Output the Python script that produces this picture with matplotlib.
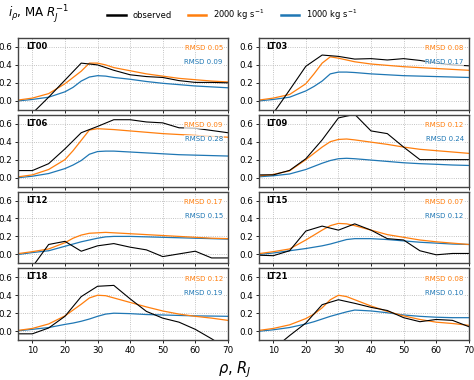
import numpy as np
import matplotlib
matplotlib.use("Agg")
import matplotlib.pyplot as plt
from matplotlib.lines import Line2D

# radial distance grids (R_J)
model_x = [6, 10, 15, 20, 22.5, 25, 27.5, 30, 32.5, 35, 40, 45, 50, 55, 60, 65, 70]
obs_x = [6, 10, 15, 20, 25, 30, 35, 40, 45, 50, 55, 60, 65, 70]

panels = ["LT00", "LT03", "LT06", "LT09", "LT12", "LT15", "LT18", "LT21"]

observed = {
    "LT00": [-0.3, -0.14, 0.04, 0.23, 0.42, 0.40, 0.34, 0.29, 0.27, 0.26, 0.225, 0.205, 0.205, 0.20],
    "LT03": [-0.35, -0.14, 0.12, 0.385, 0.51, 0.495, 0.465, 0.47, 0.455, 0.47, 0.45, 0.42, 0.40, 0.39],
    "LT06": [0.078, 0.078, 0.155, 0.32, 0.50, 0.57, 0.645, 0.645, 0.62, 0.61, 0.555, 0.55, 0.525, 0.50],
    "LT09": [0.03, 0.03, 0.08, 0.21, 0.42, 0.665, 0.705, 0.52, 0.49, 0.34, 0.20, 0.20, 0.20, 0.20],
    "LT12": [-0.3, -0.14, 0.11, 0.145, 0.035, 0.095, 0.12, 0.08, 0.05, -0.025, 0.005, 0.035, -0.04, -0.04],
    "LT15": [-0.01, -0.015, 0.04, 0.26, 0.315, 0.27, 0.34, 0.27, 0.175, 0.16, 0.04, -0.005, 0.01, 0.01],
    "LT18": [-0.03, -0.03, 0.035, 0.165, 0.385, 0.50, 0.51, 0.36, 0.22, 0.145, 0.10, 0.02, -0.085, -0.2],
    "LT21": [-0.5, -0.2, -0.05, 0.09, 0.295, 0.35, 0.31, 0.265, 0.23, 0.15, 0.105, 0.13, 0.12, 0.05],
}

model_2000 = {
    "LT00": [0.01, 0.03, 0.08, 0.19, 0.26, 0.33, 0.42, 0.42, 0.40, 0.37, 0.335, 0.30, 0.275, 0.25, 0.235, 0.22, 0.21],
    "LT03": [0.01, 0.03, 0.07, 0.19, 0.30, 0.42, 0.49, 0.475, 0.455, 0.435, 0.41, 0.395, 0.38, 0.37, 0.36, 0.35, 0.34],
    "LT06": [0.01, 0.03, 0.09, 0.20, 0.30, 0.415, 0.53, 0.545, 0.54, 0.535, 0.52, 0.505, 0.49, 0.48, 0.47, 0.46, 0.45],
    "LT09": [0.02, 0.035, 0.075, 0.20, 0.27, 0.34, 0.40, 0.425, 0.43, 0.42, 0.395, 0.37, 0.34, 0.315, 0.30, 0.285, 0.27],
    "LT12": [0.01, 0.03, 0.06, 0.13, 0.18, 0.215, 0.235, 0.24, 0.245, 0.24, 0.23, 0.22, 0.21, 0.20, 0.19, 0.18, 0.175],
    "LT15": [0.01, 0.03, 0.06, 0.16, 0.215, 0.27, 0.32, 0.345, 0.34, 0.32, 0.27, 0.22, 0.19, 0.16, 0.14, 0.125, 0.11],
    "LT18": [0.01, 0.03, 0.08, 0.17, 0.235, 0.30, 0.37, 0.40, 0.395, 0.37, 0.32, 0.27, 0.225, 0.19, 0.165, 0.145, 0.12],
    "LT21": [0.01, 0.03, 0.07, 0.14, 0.19, 0.26, 0.35, 0.40, 0.385, 0.35, 0.28, 0.22, 0.17, 0.13, 0.10, 0.085, 0.065],
}

model_1000 = {
    "LT00": [0.0, 0.015, 0.04, 0.10, 0.15, 0.22, 0.265, 0.28, 0.275, 0.26, 0.24, 0.215, 0.195, 0.18, 0.165, 0.155, 0.145],
    "LT03": [0.0, 0.015, 0.04, 0.11, 0.16, 0.22, 0.30, 0.32, 0.32, 0.315, 0.30, 0.29, 0.28, 0.275, 0.27, 0.265, 0.26],
    "LT06": [0.0, 0.015, 0.045, 0.10, 0.14, 0.19, 0.26, 0.29, 0.295, 0.295, 0.285, 0.275, 0.265, 0.255, 0.25, 0.245, 0.24],
    "LT09": [0.01, 0.02, 0.04, 0.09, 0.125, 0.16, 0.19, 0.21, 0.215, 0.21, 0.195, 0.18, 0.165, 0.155, 0.148, 0.14, 0.135],
    "LT12": [0.0, 0.02, 0.04, 0.09, 0.115, 0.14, 0.16, 0.18, 0.195, 0.20, 0.20, 0.195, 0.19, 0.185, 0.18, 0.175, 0.17],
    "LT15": [0.0, 0.015, 0.04, 0.065, 0.08, 0.095, 0.115, 0.14, 0.165, 0.175, 0.175, 0.165, 0.15, 0.135, 0.125, 0.115, 0.11],
    "LT18": [0.005, 0.02, 0.04, 0.075, 0.09, 0.11, 0.135, 0.165, 0.19, 0.20, 0.195, 0.185, 0.18, 0.175, 0.17, 0.168, 0.165],
    "LT21": [0.0, 0.015, 0.04, 0.08, 0.105, 0.135, 0.165, 0.19, 0.215, 0.235, 0.225, 0.205, 0.18, 0.165, 0.155, 0.15, 0.15],
}

rmsd_2000 = [0.05, 0.08, 0.09, 0.12, 0.17, 0.07, 0.12, 0.08]
rmsd_1000 = [0.09, 0.17, 0.28, 0.24, 0.15, 0.12, 0.19, 0.10]

c_obs = "black"
c_2000 = "#ff7f0e"
c_1000 = "#1f77b4"


def main():
    fig, axs = plt.subplots(4, 2, figsize=(4.74, 3.80), dpi=100, sharex=True, sharey=True)
    fig.subplots_adjust(left=0.038, right=0.989, top=0.90, bottom=0.105, wspace=0.148, hspace=0.07)

    for idx, name in enumerate(panels):
        ax = axs[idx // 2, idx % 2]
        ax.plot(model_x, model_1000[name], color=c_1000, lw=0.9)
        ax.plot(model_x, model_2000[name], color=c_2000, lw=0.9)
        ax.plot(obs_x, observed[name], color=c_obs, lw=0.8)

        ax.set_xlim(5.6, 70)
        ax.set_ylim(-0.1, 0.7)
        ax.set_xticks([10, 20, 30, 40, 50, 60, 70])
        ax.set_yticks([0.0, 0.2, 0.4, 0.6])
        ax.grid(True, linestyle=":", color="#b0b0b0", lw=0.6)
        ax.tick_params(labelsize=6.3, length=2.5, width=0.6, pad=1.5)
        for sp in ax.spines.values():
            sp.set_color("#444444")
            sp.set_linewidth(1.0)

        ax.text(0.037, 0.88, name, transform=ax.transAxes, fontsize=6, fontweight="bold",
                ha="left", va="center")
        box = dict(facecolor="white", edgecolor="none", alpha=0.7, pad=0.5)
        ax.text(0.976, 0.857, "RMSD %.2f" % rmsd_2000[idx], transform=ax.transAxes,
                fontsize=5, color=c_2000, ha="right", va="center", bbox=box, zorder=5)
        ax.text(0.976, 0.662, "RMSD %.2f" % rmsd_1000[idx], transform=ax.transAxes,
                fontsize=5, color=c_1000, ha="right", va="center", bbox=box, zorder=5)

    for ax in axs[:, 1]:
        ax.tick_params(labelleft=True)

    handles = [Line2D([0], [0], color=c_obs, lw=1.8),
               Line2D([0], [0], color=c_2000, lw=1.8),
               Line2D([0], [0], color=c_1000, lw=1.8)]
    labels = ["observed", "2000 kg s$^{-1}$", "1000 kg s$^{-1}$"]
    fig.legend(handles, labels, loc="center", bbox_to_anchor=(0.49, 0.962), ncol=3,
               frameon=False, fontsize=6, handlelength=2.2, columnspacing=2.0, handletextpad=0.8)

    fig.text(0.017, 0.962, r"$i_\rho$, MA $R_J^{-1}$", fontsize=8.6, ha="left", va="center")
    fig.text(0.496, 0.028, r"$\rho$, $R_J$", fontsize=10.5, ha="center", va="center")

    fig.savefig("out.png", dpi=100)


if __name__ == "__main__":
    main()
